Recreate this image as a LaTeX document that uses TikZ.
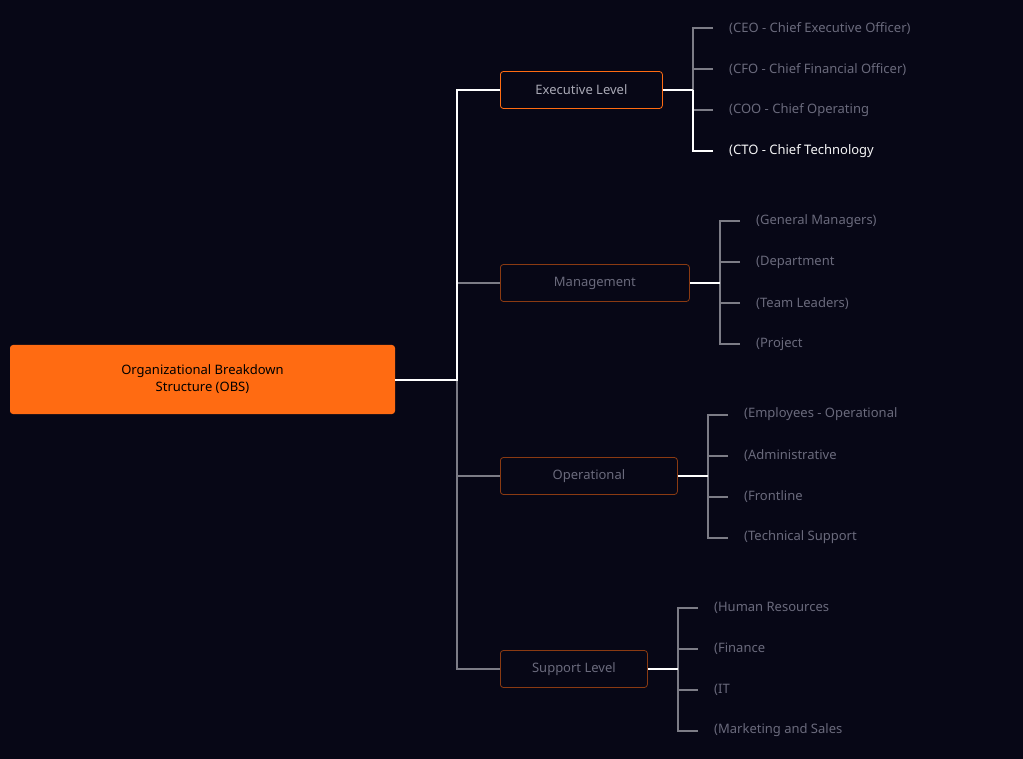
\documentclass[tikz,border=0pt]{standalone}
\usepackage{fontspec}
\setmainfont{Noto Sans}
\usetikzlibrary{positioning}
\definecolor{bgdark}{HTML}{070716}
\definecolor{rootorange}{HTML}{FF6B12}
\definecolor{dimorange}{HTML}{8A3A12}
\definecolor{textgrey}{HTML}{A8A8B4}
\definecolor{textdim}{HTML}{6A6A7C}
\definecolor{linegrey}{HTML}{7C7C86}

\tikzset{
  level/.style={rectangle, rounded corners=3pt, draw=dimorange, thick, fill=bgdark, text=textdim, anchor=west, inner xsep=14pt, minimum height=37pt, font=\fontsize{13}{15}\selectfont},
  leaf/.style={anchor=west, inner sep=0pt, text=textdim, font=\fontsize{13}{15}\selectfont},
  hot/.style={draw=white, line width=2pt},
  cold/.style={draw=linegrey, line width=2pt}
}

\begin{document}
\begin{tikzpicture}[x=1pt, y=-1pt]
\fill[bgdark] (0,0) rectangle (1023,759);
\useasboundingbox (0,0) rectangle (1023,759);

% Root
\node[rectangle, rounded corners=3pt, fill=rootorange, minimum width=385pt, minimum height=69pt, align=center, font=\fontsize{13}{17}\selectfont\bfseries, text=black] (obs) at (202.5,379.5) {Organizational Breakdown\\Structure (OBS)};

% Level boxes
\node[level, draw=rootorange, text=textgrey, minimum width=162pt] (exec) at (500,90) {Executive Level};
\node[level, minimum width=189pt] (mgmt) at (500,283) {Management};
\node[level, minimum width=177pt] (oper) at (500,476) {Operational};
\node[level, minimum width=147pt] (supp) at (500,669) {Support Level};

% Trunk
\coordinate (trunk) at (457,379.5);
\draw[cold] (trunk) |- (supp.west);
\draw[cold] (457,476) -- (oper.west);
\draw[cold] (457,283) -- (mgmt.west);
\draw[hot] (obs.east) -- (trunk) |- (exec.west);

% Bracket points
\coordinate (exec-br) at (693,90);
\coordinate (mgmt-br) at (720,283);
\coordinate (oper-br) at (708,476);
\coordinate (supp-br) at (678,669);

% Leaves
\foreach \name/\i/\lbl in {
  exec/1/{(CEO - Chief Executive Officer)}, exec/2/{(CFO - Chief Financial Officer)},
  exec/3/{(COO - Chief Operating}, exec/4/{(CTO - Chief Technology},
  mgmt/1/{(General Managers)}, mgmt/2/{(Department}, mgmt/3/{(Team Leaders)}, mgmt/4/{(Project},
  oper/1/{(Employees - Operational}, oper/2/{(Administrative}, oper/3/{(Frontline}, oper/4/{(Technical Support},
  supp/1/{(Human Resources}, supp/2/{(Finance}, supp/3/{(IT}, supp/4/{(Marketing and Sales}}{
  \node[leaf] (\name-\i) at ([xshift=36pt, yshift={(\i-2.5)*-41pt}]\name-br) {\lbl};
  \draw[cold] ([xshift=-16pt]\name-\i.west) -| (\name-br);
}
\foreach \name in {exec, mgmt, oper, supp}
  \draw[hot] (\name.east) -- (\name-br);

% highlighted path
\draw[hot] (exec-br) |- ([xshift=-16pt]exec-4.west);
\node[leaf, text=white!88!textgrey, fill=bgdark] at (exec-4.west) {(CTO - Chief Technology};
\end{tikzpicture}
\end{document}
